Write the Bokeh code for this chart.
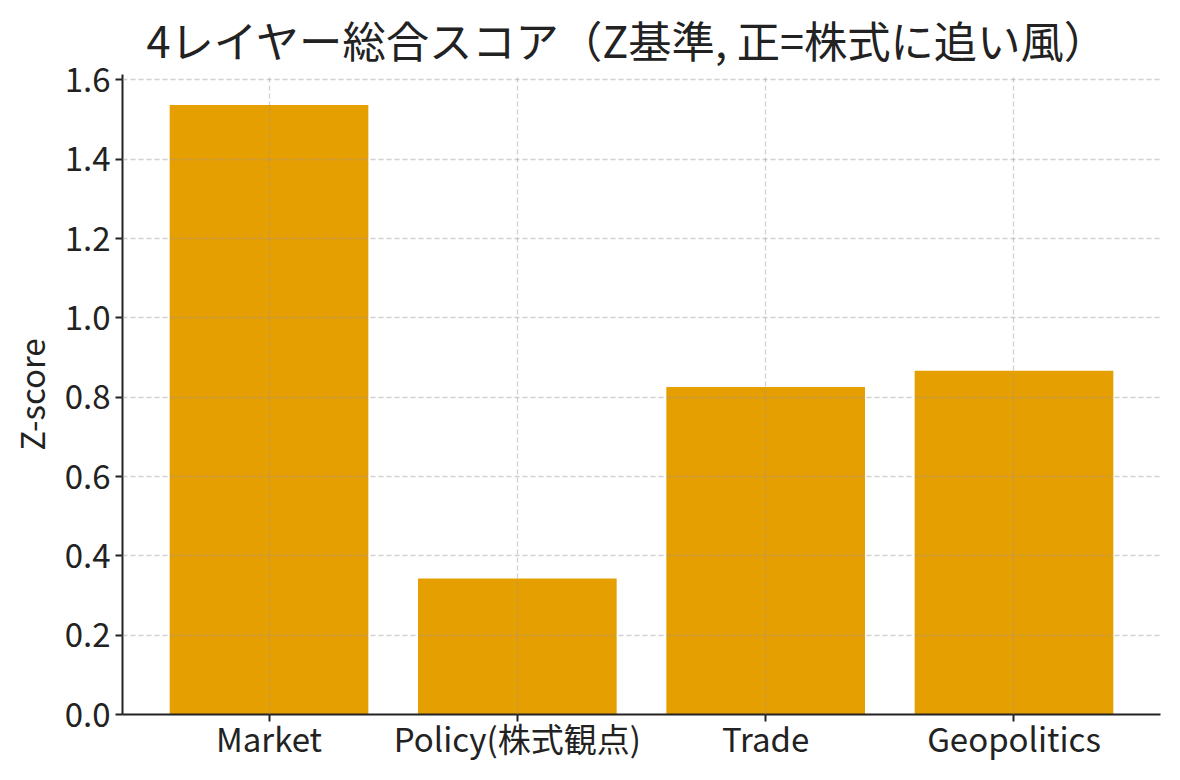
from bokeh.plotting import figure
from bokeh.models import Range1d, FixedTicker, NumeralTickFormatter, ColumnDataSource
from bokeh.embed import file_html
from bokeh.resources import INLINE

categories = ["Market", "Policy(株式観点)", "Trade", "Geopolitics"]
scores = [1.537, 0.343, 0.826, 0.867]
y_ticks = [0.0, 0.2, 0.4, 0.6, 0.8, 1.0, 1.2, 1.4, 1.6]

FONT = "Noto Sans CJK JP"
xs = list(range(len(categories)))
src = ColumnDataSource(dict(x=xs, top=scores, cat=categories))

p = figure(width=1172, height=772, output_backend="svg", toolbar_location=None,
           x_range=Range1d(-0.59, len(categories) - 1 + 0.59),
           y_range=Range1d(0, max(scores) * 1.05),
           title="4レイヤー総合スコア（Z基準, 正=株式に追い風）",
           min_border_left=122, min_border_right=12, min_border_top=73, min_border_bottom=58)

p.vbar(x="x", top="top", width=0.8, source=src, color="#E69F00", line_color=None)

p.title.text_font = FONT
p.title.text_font_size = "43.3px"
p.title.text_font_style = "normal"
p.title.text_color = "#222222"
p.title.align = "left"
p.title.offset = 24
p.title.standoff = 10

p.xaxis.ticker = FixedTicker(ticks=xs)
p.xaxis.major_label_overrides = {i: c for i, c in enumerate(categories)}
p.yaxis.ticker = FixedTicker(ticks=y_ticks)
p.yaxis.formatter = NumeralTickFormatter(format="0.0")
p.yaxis.axis_label = "Z-score"

for ax in (p.xaxis, p.yaxis):
    ax.axis_line_width = 2
    ax.axis_line_color = "#222222"
    ax.major_tick_line_color = "#222222"
    ax.major_tick_line_width = 2
    ax.major_tick_out = 7
    ax.major_tick_in = 0
    ax.minor_tick_line_color = None
    ax.major_label_text_font = FONT
    ax.major_label_text_font_size = "33px"
    ax.major_label_text_color = "#222222"
    ax.major_label_standoff = 5
    ax.axis_label_text_font = FONT
    ax.axis_label_text_font_size = "33px"
    ax.axis_label_text_font_style = "normal"
    ax.axis_label_text_color = "#222222"

p.xaxis.major_label_standoff = -8
p.yaxis.axis_label_standoff = 7

for g in (p.xgrid, p.ygrid):
    g.grid_line_color = "#999999"
    g.grid_line_alpha = 0.45
    g.grid_line_dash = "5 3"
    g.grid_line_width = 1.3
    g.level = "overlay"

p.outline_line_color = None

open("out.html", "w").write(file_html(p, INLINE))
